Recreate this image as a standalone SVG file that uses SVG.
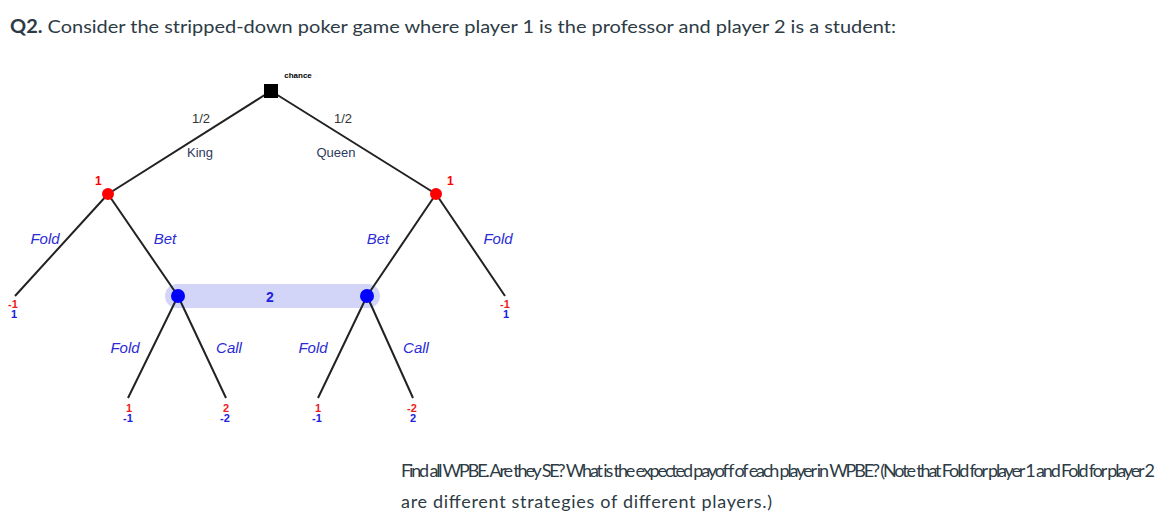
<svg xmlns="http://www.w3.org/2000/svg" width="1170" height="531" viewBox="0 0 1170 531">
<style>
.t{font-family:Lato,"Liberation Sans",sans-serif;font-size:18px;fill:#2d3b45}
.e{stroke:#222;stroke-width:2;fill:none}
.a{font-family:"Liberation Sans",Arial,sans-serif;font-size:15px;font-style:italic;fill:#2b2bd6;text-anchor:middle}
.p{font-family:"Liberation Sans",Arial,sans-serif;font-size:11px;font-weight:bold;text-anchor:middle}
.r{fill:#f02020}.b{fill:#2020e0}
.c{font-family:"Liberation Sans",Arial,sans-serif;font-size:13px;fill:#333;text-anchor:middle}
</style>
<rect width="1170" height="531" fill="#fff"/>
<text class="t" x="10" y="33" font-size="19" textLength="886" lengthAdjust="spacingAndGlyphs"><tspan font-weight="bold">Q2.</tspan> Consider the stripped-down poker game where player 1 is the professor and player 2 is a student:</text>
<rect x="165" y="284" width="215" height="24" rx="12" fill="#d3d5f8"/>
<g id="connectors">
<path class="e" d="M271 91L108 194M271 91L436 194M108 194L15 296M108 194L178 296M436 194L367 296M436 194L505 296M178 296L128 398M178 296L226 398M367 296L318 398M367 296L413 398"/>
</g>
<g id="chance"><rect x="264" y="84" width="14" height="14" fill="#000"/><text x="298" y="78" font-family="Liberation Sans,Arial,sans-serif" font-size="8" font-weight="bold" text-anchor="middle">chance</text></g>
<g id="p1L"><circle cx="108" cy="194" r="6" fill="#f00"/><text x="95" y="185" font-family="Liberation Sans,Arial,sans-serif" font-size="12" font-weight="bold" fill="#f00">1</text></g>
<g id="p1R"><circle cx="436" cy="194" r="6" fill="#f00"/><text x="447" y="185" font-family="Liberation Sans,Arial,sans-serif" font-size="12" font-weight="bold" fill="#f00">1</text></g>
<g id="p2L"><circle cx="178" cy="296" r="7" fill="#00f"/></g>
<g id="p2R"><circle cx="367" cy="296" r="7" fill="#00f"/></g>
<text x="270" y="302" font-family="Liberation Sans,Arial,sans-serif" font-size="14" font-weight="bold" fill="#2020e0" text-anchor="middle">2</text>
<g id="labels">
<text class="c" x="201" y="123">1/2</text><text class="c" x="343" y="123">1/2</text>
<text x="200" y="157" font-family="Liberation Sans,Arial,sans-serif" font-size="13" fill="#2d3b5a" text-anchor="middle">King</text>
<text x="336" y="157" font-family="Liberation Sans,Arial,sans-serif" font-size="13" fill="#2d3b5a" text-anchor="middle">Queen</text>
<text class="a" x="45" y="244">Fold</text><text class="a" x="165" y="244">Bet</text>
<text class="a" x="378" y="244">Bet</text><text class="a" x="498" y="244">Fold</text>
<text class="a" x="125" y="353">Fold</text><text class="a" x="229" y="353">Call</text>
<text class="a" x="313" y="353">Fold</text><text class="a" x="416" y="353">Call</text>
</g>
<g id="payoffs">
<text class="p r" x="13" y="308">-1</text><text class="p b" x="14" y="318">1</text>
<text class="p r" x="505" y="308">-1</text><text class="p b" x="506" y="318">1</text>
<text class="p r" x="129" y="412">1</text><text class="p b" x="128" y="422">-1</text>
<text class="p r" x="226" y="412">2</text><text class="p b" x="225" y="422">-2</text>
<text class="p r" x="318" y="412">1</text><text class="p b" x="317" y="422">-1</text>
<text class="p r" x="412" y="412">-2</text><text class="p b" x="413" y="422">2</text>
</g>
<text class="t" x="401" y="477" font-size="17.4" textLength="754" lengthAdjust="spacing">Find all WPBE. Are they SE? What is the expected payoff of each player in WPBE? (Note that Fold for player 1 and Fold for player 2</text>
<text class="t" x="401" y="508" font-size="17.4" textLength="371" lengthAdjust="spacing">are different strategies of different players.)</text>
</svg>
